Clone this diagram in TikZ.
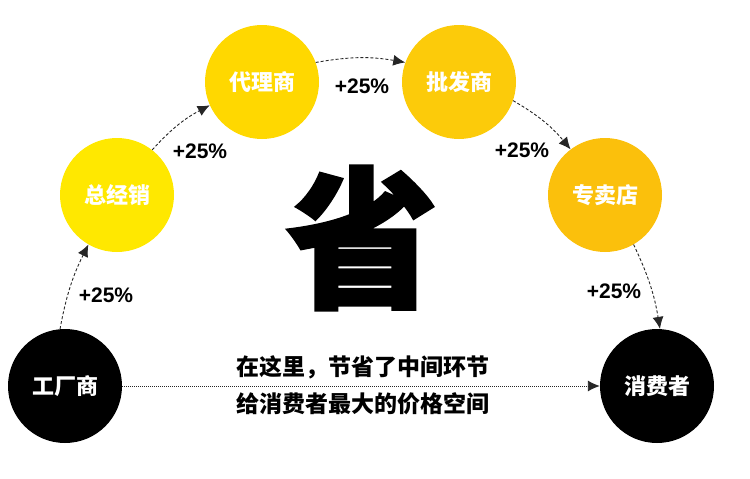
\documentclass[tikz,border=0pt]{standalone}
\usepackage{fontspec}
\setmainfont{Liberation Sans}
\newfontfamily\cjk{Noto Sans CJK SC}
\newfontfamily\cjkheavy{Noto Sans CJK SC}[BoldFeatures={FakeBold=1.8}]
\usetikzlibrary{arrows.meta}
\definecolor{ylwa}{HTML}{FFE800}
\definecolor{ylwb}{HTML}{FFD800}
\definecolor{ylwc}{HTML}{FCCB0A}
\definecolor{ylwd}{HTML}{FBC00C}
\tikzset{
  % one link of the chain, a filled disc with a white name
  stage/.style = {circle, minimum size=114pt, inner sep=0pt, fill=#1, text=white,
                  font=\cjk\bfseries\fontsize{22}{22}\selectfont},
  stage/.default = black,
  flow/.style  = {-{Latex[length=12pt,width=11pt]}, dash pattern=on 3pt off 2pt,
                  line width=0.9pt, black!85},
  direct/.style = {-{Latex[length=12pt,width=11pt]}, dash pattern=on 1pt off 1pt,
                  line width=0.9pt, black!85},
  gain/.style  = {font=\bfseries\fontsize{21}{21}\selectfont},
  note/.style  = {anchor=west, inner sep=0pt, font=\cjk\bfseries\fontsize{23}{23}\selectfont},
}
\begin{document}
\begin{tikzpicture}[x=1pt,y=-1pt]
\useasboundingbox (0,0) rectangle (750,479);
% the chain
\node[stage]      (fac)  at (65,386)  {工厂商};
\node[stage=ylwa] (gen)  at (117,195) {总经销};
\node[stage=ylwb] (agt)  at (262,82)  {代理商};
\node[stage=ylwc] (whl)  at (459,82)  {批发商};
\node[stage=ylwd] (shop) at (605,195) {专卖店};
\node[stage]      (cons) at (657,386) {消费者};
% mark-ups between links
\draw[flow] (fac.95)   to[bend left=8]  (gen.240);
\draw[flow] (gen.52)   to[bend left=10] (agt.204);
\draw[flow] (agt.20)   to[bend left=10] (whl.160);
\draw[flow] (whl.341)  to[bend left=10] (shop.127);
\draw[flow] (shop.300) to[bend left=8]  (cons.87);
\node[gain] (g1) at (106,295) {+25\%};
\node[gain] (g2) at (200,151) {+25\%};
\node[gain] (g3) at (362,86)  {+25\%};
\node[gain] (g4) at (522,150) {+25\%};
\node[gain] (g5) at (614,291) {+25\%};
% the short way
\draw[direct] (fac) -- (cons);
\node[note] (n1) at (236,367) {在这里，节省了中间环节};
\node[note] (n2) at (236,404) {给消费者最大的价格空间};
\node[inner sep=0pt, font=\cjkheavy\bfseries\fontsize{152}{152}\selectfont] (big) at (362,238) {省};
\end{tikzpicture}
\end{document}
